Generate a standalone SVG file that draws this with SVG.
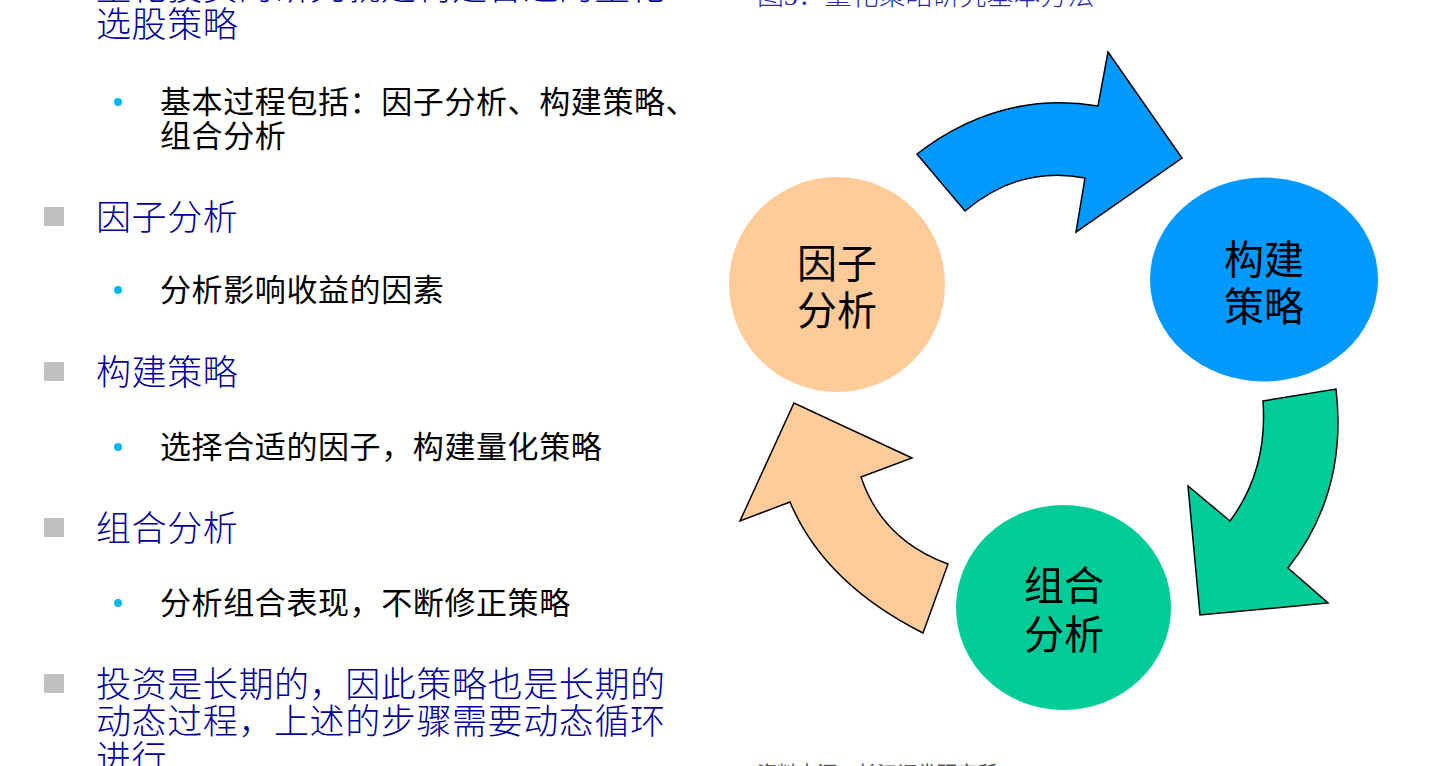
<svg xmlns="http://www.w3.org/2000/svg" width="1436" height="766" viewBox="0 0 1436 766">
<style>
.h{font-family:"Liberation Serif","Noto Sans CJK SC",serif;font-size:35px;fill:#000099;letter-spacing:0.6px;font-weight:300;}
.s{font-family:"Liberation Sans","Noto Sans CJK SC",sans-serif;font-size:31px;fill:#000;letter-spacing:0.6px;}
.n{font-family:"Liberation Serif","Noto Sans CJK SC",serif;font-size:40px;fill:#000;text-anchor:middle;}
.sq{fill:#C0C0C0;}
.dot{fill:#00B8F0;}
.arr{stroke:#000;stroke-width:1.5;stroke-linejoin:miter;}
</style>
<rect width="1436" height="766" fill="#fff"/>
<g id="left-text">
<text class="h" x="96" y="0">量化投资的研究就是构建合适的量化</text>
<text class="h" x="96" y="37">选股策略</text>
<circle class="dot" cx="118" cy="102" r="4"/>
<text class="s" x="160" y="113" letter-spacing="1.6">基本过程包括：因子分析、构建策略、</text>
<text class="s" x="160" y="147">组合分析</text>
<rect class="sq" x="44" y="207" width="20" height="19"/>
<text class="h" x="96" y="230">因子分析</text>
<circle class="dot" cx="118" cy="290" r="4"/>
<text class="s" x="160" y="301">分析影响收益的因素</text>
<rect class="sq" x="44" y="362" width="20" height="19"/>
<text class="h" x="96" y="385">构建策略</text>
<circle class="dot" cx="118" cy="447" r="4"/>
<text class="s" x="160" y="458">选择合适的因子，构建量化策略</text>
<rect class="sq" x="44" y="518" width="20" height="19"/>
<text class="h" x="96" y="541">组合分析</text>
<circle class="dot" cx="118" cy="603" r="4"/>
<text class="s" x="160" y="614">分析组合表现，不断修正策略</text>
<rect class="sq" x="44" y="674" width="20" height="19"/>
<text class="h" x="96" y="697">投资是长期的，因此策略也是长期的</text>
<text class="h" x="96" y="734">动态过程，上述的步骤需要动态循环</text>
<text class="h" x="96" y="771">进行</text>
</g>
<g id="caption">
<text x="757" y="5" style="font-family:'Liberation Serif','Noto Sans CJK SC',serif;font-size:27px;fill:#2A2AB0;font-weight:300">图3：量化策略研究基本方法</text>
<text x="757" y="781" style="font-family:'Liberation Sans','Noto Sans CJK SC',sans-serif;font-size:20px;fill:#555">资料来源：长江证券研究所</text>
</g>
<g id="connectors">
<path class="arr" fill="#0099FF" d="M917,154 Q1000,90 1098,106 L1108,52 L1182,158 L1076,232 L1085,178 Q1020,165 965,211 Z"/>
<path class="arr" fill="#00CC99" d="M1263,401 L1336,389 Q1348,492 1288,568 L1328,603 L1200,615 L1188,486 L1230,521 Q1268,470 1263,401 Z"/>
<path class="arr" fill="#FFCC99" d="M923,633 Q824,583 790,502 L740,521 L794,403 L912,458 L861,477 Q882,540 948,564 Z"/>
</g>
<g id="node-factor">
<ellipse cx="837" cy="284.5" rx="108" ry="107.5" fill="#FFCC99"/>
<text class="n" x="837" y="278">因子</text>
<text class="n" x="837" y="325">分析</text>
</g>
<g id="node-build">
<ellipse cx="1264" cy="279.5" rx="114" ry="102" fill="#0099FF"/>
<text class="n" x="1264" y="274">构建</text>
<text class="n" x="1264" y="321">策略</text>
</g>
<g id="node-portfolio">
<ellipse cx="1063.5" cy="607.5" rx="107.5" ry="102.5" fill="#00CC99"/>
<text class="n" x="1064" y="600">组合</text>
<text class="n" x="1064" y="649">分析</text>
</g>
</svg>
